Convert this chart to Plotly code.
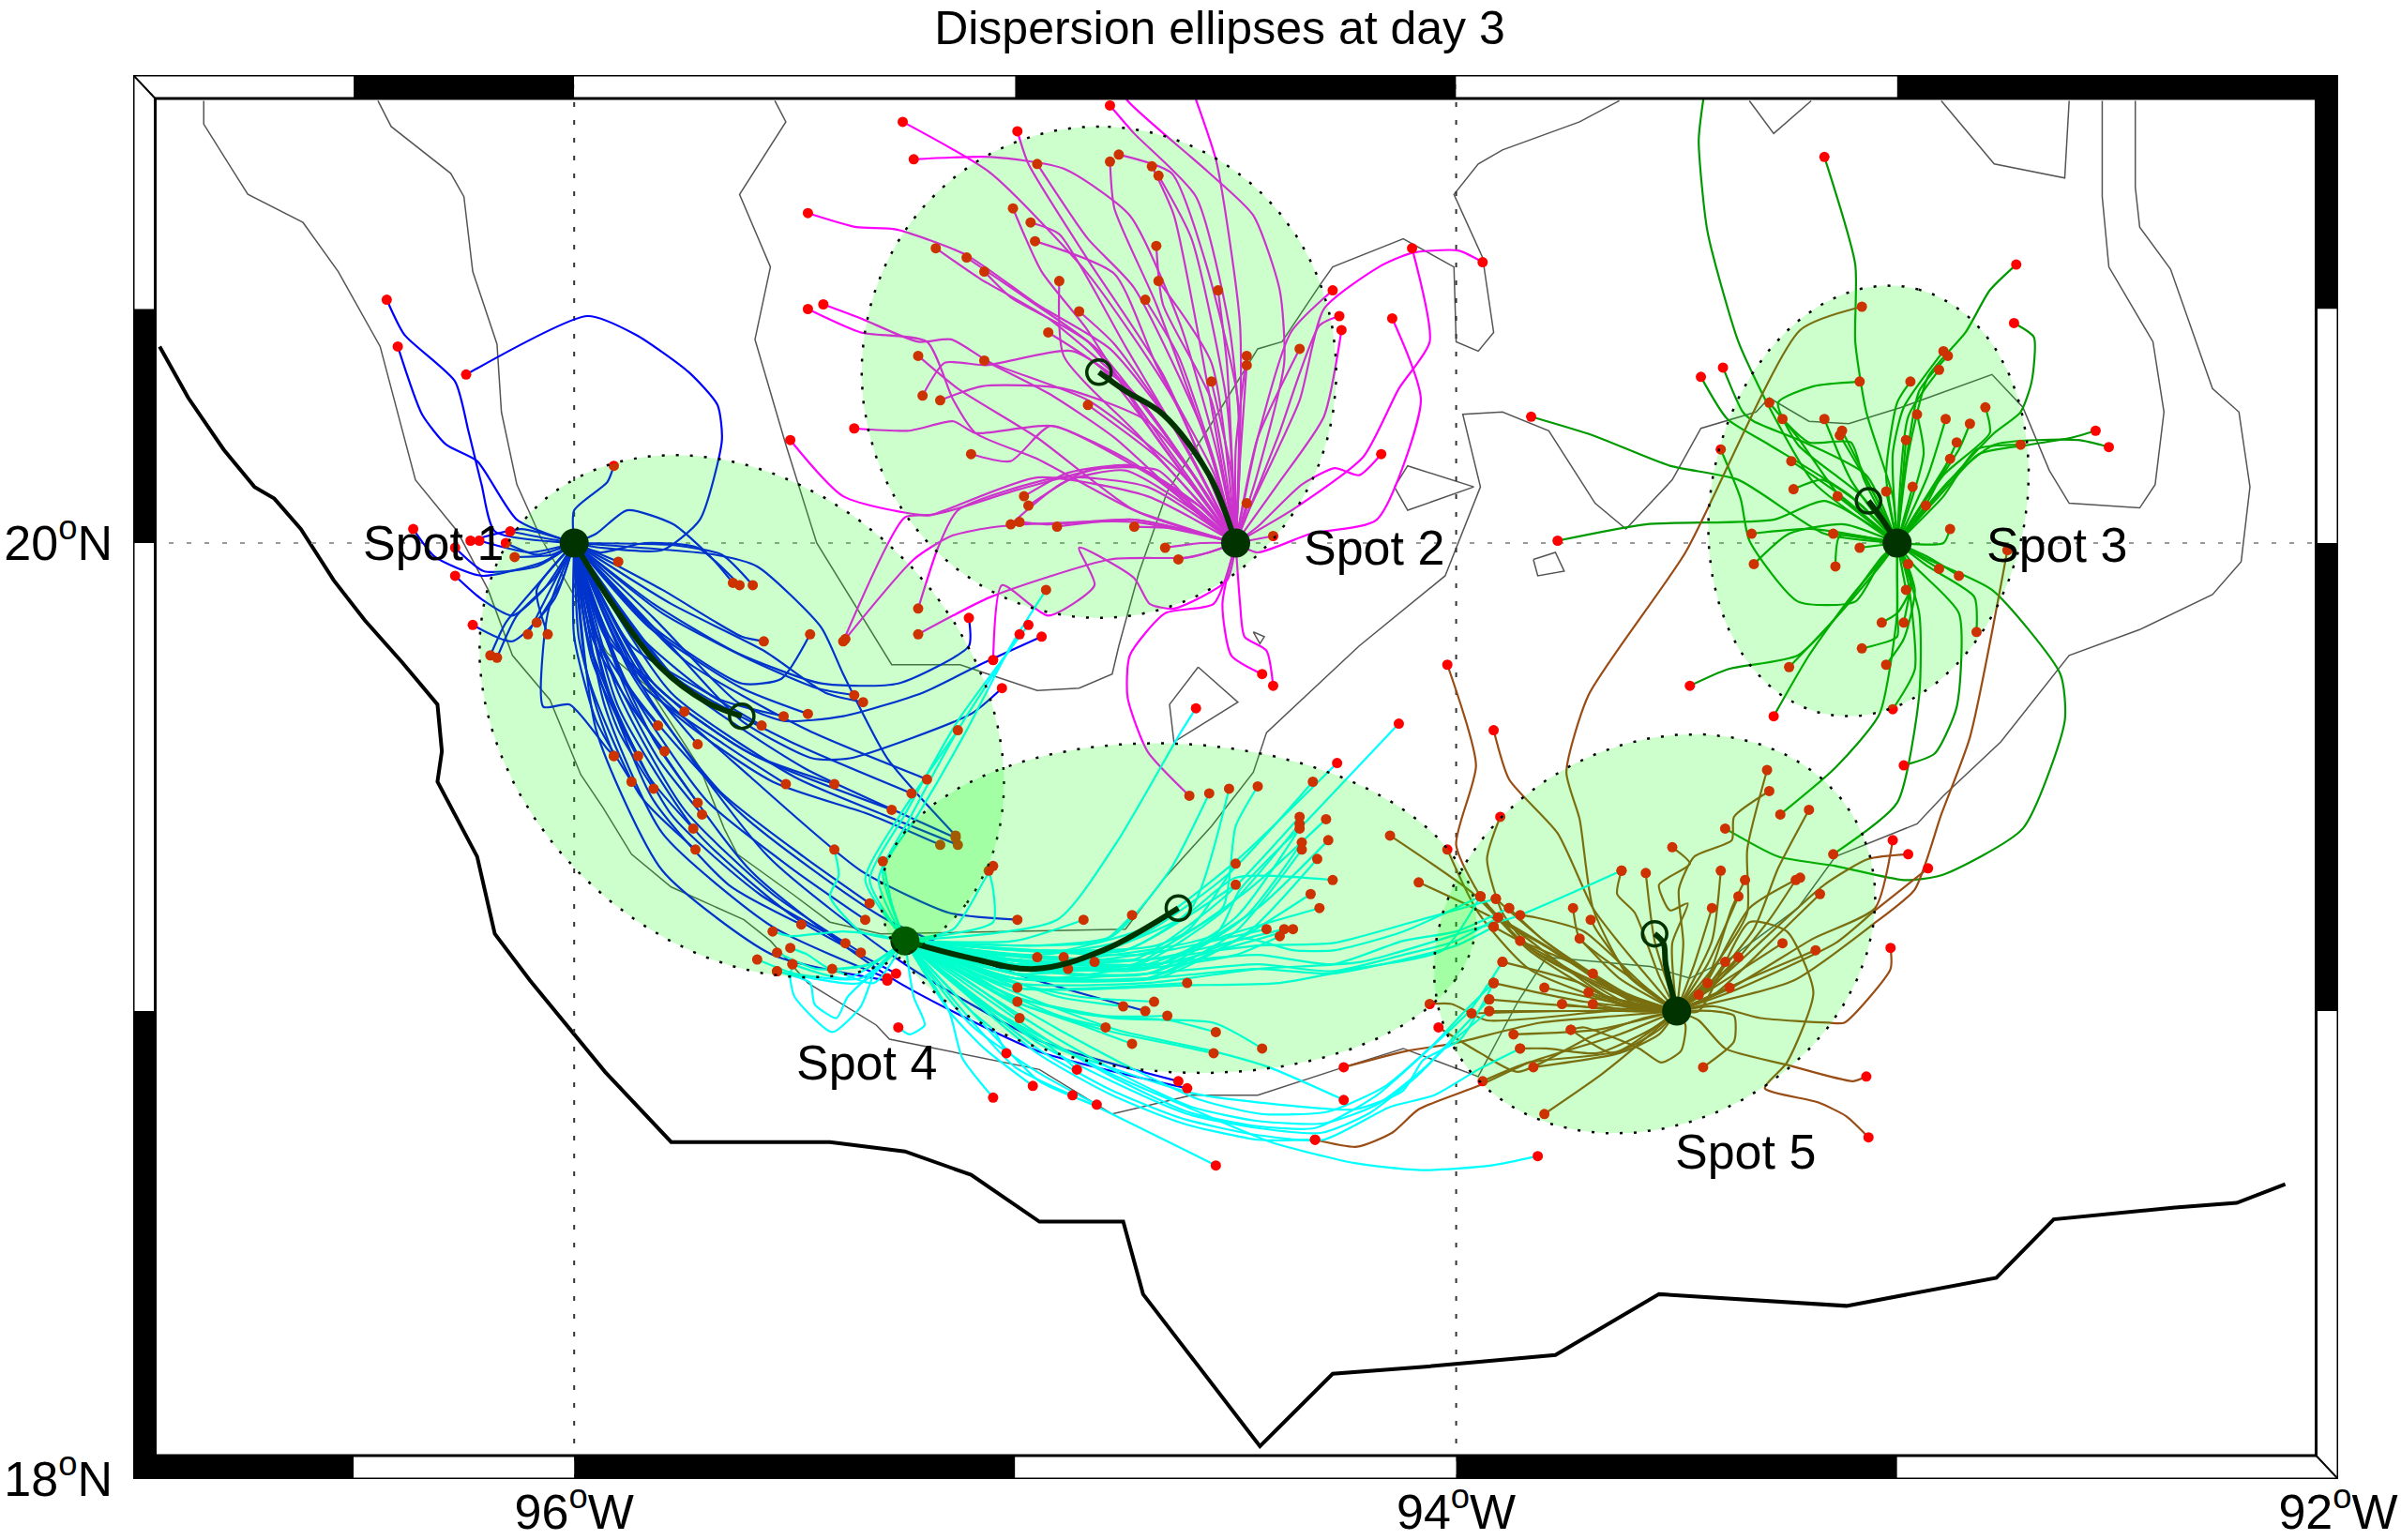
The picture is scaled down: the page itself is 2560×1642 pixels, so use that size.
import numpy as np
import plotly.graph_objects as go

# release spots and mean track ends (lon, lat)
spot_names = ['Spot 1', 'Spot 2', 'Spot 3', 'Spot 4', 'Spot 5']
spot_lon = [-96.0, -94.5, -93.0, -95.25, -93.5]
spot_lat = [20.0, 20.0, 20.0, 19.15, 19.0]
mean_end_lon = [-95.62, -94.81, -93.065, -94.63, -93.55]
mean_end_lat = [19.63, 20.365, 20.09, 19.22, 19.165]
label_lon = [-96.32, -94.187, -92.639, -95.337, -93.344]
label_lat = [20.0, 19.99, 19.995, 18.89, 18.70]

# dispersion ellipses: semi axes in degrees and tilt
ell_a = [0.648, 0.525, 0.466, 0.676, 0.517]
ell_b = [0.495, 0.538, 0.356, 0.351, 0.406]
ell_tilt = [-38, 90, 76, -3, 24]

mean_mid_1 = [(-95.91, 19.865), (-95.805, 19.735), (-95.70, 19.66)]
mean_mid_2 = [(-94.56, 20.145), (-94.665, 20.275), (-94.75, 20.325)]
mean_mid_3 = [(-93.03, 20.045)]
mean_mid_4 = [(-95.11, 19.115), (-94.955, 19.09), (-94.80, 19.13)]
mean_mid_5 = [(-93.525, 19.10), (-93.53, 19.145)]

coast = [(-96.94, 20.42), (-96.875, 20.31), (-96.795, 20.20), (-96.725, 20.12), (-96.68, 20.095), (-96.62, 20.03),
         (-96.545, 19.92), (-96.475, 19.835), (-96.39, 19.745), (-96.31, 19.655), (-96.30, 19.555), (-96.31, 19.49),
         (-96.22, 19.33), (-96.18, 19.165), (-96.10, 19.065), (-95.93, 18.87), (-95.78, 18.72), (-95.42, 18.72),
         (-95.25, 18.70), (-95.10, 18.65), (-94.945, 18.55), (-94.755, 18.55), (-94.71, 18.395), (-94.445, 18.07),
         (-94.28, 18.225), (-94.07, 18.24), (-93.775, 18.265), (-93.54, 18.395), (-93.115, 18.37), (-92.775, 18.43),
         (-92.645, 18.555), (-92.37, 18.58), (-92.23, 18.59), (-92.12, 18.63)]

contour_1 = [(-96.84, 20.945), (-96.84, 20.895), (-96.74, 20.745), (-96.615, 20.685), (-96.535, 20.58), (-96.44, 20.42),
             (-96.36, 20.135), (-96.265, 20.025), (-96.195, 19.90), (-96.14, 19.76), (-96.055, 19.665), (-95.985, 19.505),
             (-95.935, 19.435), (-95.87, 19.335), (-95.78, 19.265), (-95.615, 19.195), (-95.555, 19.15), (-95.47, 19.06),
             (-95.315, 18.97), (-95.285, 18.94), (-94.945, 18.875), (-94.78, 18.78), (-94.60, 18.82), (-94.45, 18.82),
             (-94.255, 18.88), (-94.12, 18.92), (-93.95, 18.86), (-93.86, 19.02), (-93.795, 19.115), (-93.56, 19.095),
             (-93.47, 19.07), (-93.375, 19.115), (-93.225, 19.22), (-93.14, 19.33), (-92.955, 19.40), (-92.895, 19.46),
             (-92.765, 19.575), (-92.61, 19.76), (-92.45, 19.815), (-92.285, 19.89), (-92.22, 19.96), (-92.20, 20.12),
             (-92.225, 20.28), (-92.285, 20.33), (-92.38, 20.585), (-92.45, 20.675), (-92.46, 20.76), (-92.46, 20.945)]
contour_2 = [(-96.445, 20.945), (-96.415, 20.89), (-96.28, 20.79), (-96.25, 20.74), (-96.23, 20.58), (-96.175, 20.425),
             (-96.165, 20.28), (-96.13, 20.125), (-96.075, 20.01), (-95.925, 19.765), (-95.835, 19.695), (-95.715, 19.52),
             (-95.66, 19.39), (-95.63, 19.335), (-95.505, 19.25), (-95.42, 19.19), (-95.305, 19.165), (-94.75, 19.175),
             (-94.665, 19.28), (-94.555, 19.395), (-94.46, 19.51), (-94.43, 19.595), (-94.22, 19.78), (-94.025, 19.93),
             (-93.945, 20.12), (-93.985, 20.275), (-93.895, 20.28), (-93.79, 20.24), (-93.685, 20.085), (-93.615, 20.03),
             (-93.51, 20.135), (-93.445, 20.245), (-93.32, 20.28), (-93.29, 20.31), (-93.20, 20.26), (-93.11, 20.255),
             (-92.99, 20.29), (-92.785, 20.36), (-92.715, 20.29), (-92.655, 20.155), (-92.61, 20.085), (-92.45, 20.075),
             (-92.415, 20.125), (-92.395, 20.28), (-92.42, 20.43), (-92.52, 20.59), (-92.535, 20.74), (-92.535, 20.945)]
contour_3 = [(-95.545, 20.945), (-95.52, 20.90), (-95.625, 20.745), (-95.555, 20.59), (-95.59, 20.435), (-95.52, 20.21),
             (-95.45, 20.0), (-95.28, 19.74), (-95.125, 19.74), (-94.95, 19.685), (-94.855, 19.69), (-94.78, 19.72),
             (-94.765, 19.78), (-94.72, 19.935), (-94.655, 20.11), (-94.565, 20.24), (-94.45, 20.415), (-94.395, 20.43),
             (-94.31, 20.55), (-94.28, 20.59), (-94.12, 20.65), (-94.005, 20.59), (-94.0, 20.43), (-93.95, 20.41),
             (-93.915, 20.45), (-93.94, 20.61), (-94.005, 20.745), (-93.95, 20.81), (-93.895, 20.84), (-93.72, 20.90),
             (-93.63, 20.945)]
contour_4 = [(-94.14, 20.12), (-94.11, 20.165), (-93.96, 20.12), (-94.11, 20.07), (-94.14, 20.12)]
contour_5 = [(-94.585, 19.735), (-94.495, 19.66), (-94.64, 19.575), (-94.65, 19.655), (-94.585, 19.735)]
contour_6 = [(-93.825, 19.965), (-93.775, 19.98), (-93.755, 19.94), (-93.815, 19.93), (-93.825, 19.965)]
contour_7 = [(-94.46, 19.81), (-94.435, 19.80), (-94.445, 19.785), (-94.46, 19.81)]
contour_8 = [(-93.335, 20.945), (-93.28, 20.875), (-93.195, 20.945)]
contour_9 = [(-92.90, 20.945), (-92.78, 20.81), (-92.62, 20.78), (-92.61, 20.945)]

# every track is written from its day 3 position back towards the release spot
tracks_1 = [
    [(-96.425, 20.52), (-96.385, 20.445), (-96.27, 20.345), (-96.24, 20.24), (-96.21, 20.125), (-96.18, 20.025)],
    [(-96.40, 20.42), (-96.345, 20.275), (-96.29, 20.21), (-96.22, 20.175), (-96.13, 20.05)],
    [(-96.245, 20.36), (-95.97, 20.485), (-95.86, 20.445), (-95.74, 20.365), (-95.675, 20.295), (-95.665, 20.22), (-95.715, 20.05), (-95.80, 19.985), (-95.94, 19.99)],
    [(-95.91, 20.165), (-95.925, 20.13), (-96.0, 20.07)],
    [(-95.64, 19.915), (-95.685, 19.965), (-95.775, 20.04), (-95.88, 20.07), (-95.95, 20.02)],
    [(-95.625, 19.91), (-95.72, 19.99), (-95.84, 20.0), (-95.94, 19.98)],
    [(-95.595, 19.91), (-95.665, 19.975), (-95.77, 19.995)],
    [(-96.365, 20.03), (-96.315, 19.97), (-96.21, 19.93), (-96.07, 19.96)],
    [(-96.235, 20.005), (-96.12, 20.03)],
    [(-96.215, 20.005), (-96.10, 19.98)],
    [(-96.145, 20.025), (-96.065, 20.01)],
    [(-96.155, 20.0), (-96.085, 19.975)],
    [(-96.27, 19.99), (-96.205, 19.94), (-96.085, 19.95)],
    [(-96.135, 19.97), (-96.05, 19.975)],
    [(-96.27, 19.93), (-96.21, 19.88), (-96.14, 19.845), (-96.07, 19.90)],
    [(-96.23, 19.825), (-96.14, 19.79), (-96.045, 19.88)],
    [(-96.19, 19.76), (-96.155, 19.83), (-96.075, 19.92)],
    [(-96.175, 19.755), (-96.13, 19.845), (-96.045, 19.925)],
    [(-96.105, 19.805), (-96.065, 19.88)],
    [(-96.085, 19.83), (-96.03, 19.915)],
    [(-96.06, 19.805), (-96.085, 19.90)],
    [(-95.28, 19.43), (-95.60, 19.55), (-95.82, 19.70)],
    [(-95.235, 19.465), (-95.52, 19.58), (-95.78, 19.72)],
    [(-95.20, 19.495), (-95.47, 19.60), (-95.75, 19.75)],
    [(-95.135, 19.37), (-95.30, 19.44), (-95.48, 19.52), (-95.76, 19.70)],
    [(-95.13, 19.355), (-95.30, 19.42), (-95.50, 19.50), (-95.78, 19.68)],
    [(-95.17, 19.355), (-95.33, 19.42), (-95.55, 19.49), (-95.80, 19.66)],
    [(-95.41, 19.485), (-95.60, 19.55), (-95.82, 19.70)],
    [(-95.52, 19.485), (-95.66, 19.57), (-95.85, 19.70)],
    [(-95.485, 19.185), (-95.65, 19.27), (-95.82, 19.45), (-95.93, 19.70)],
    [(-95.385, 19.145), (-95.58, 19.25), (-95.78, 19.42), (-95.92, 19.68)],
    [(-95.35, 19.125), (-95.55, 19.25), (-95.75, 19.43), (-95.90, 19.68)],
    [(-95.34, 19.195), (-95.50, 19.30), (-95.70, 19.45), (-95.88, 19.70)],
    [(-95.33, 19.23), (-95.48, 19.33), (-95.67, 19.47), (-95.87, 19.72)],
    [(-94.995, 19.195), (-95.15, 19.21), (-95.35, 19.30), (-95.60, 19.50), (-95.85, 19.72)],
    [(-94.705, 19.0), (-95.0, 19.08), (-95.30, 19.20), (-95.62, 19.42), (-95.88, 19.70)],
    [(-94.63, 18.85), (-94.94, 18.935), (-95.25, 19.10), (-95.56, 19.33), (-95.84, 19.685)],
    [(-94.61, 18.835), (-94.95, 18.915), (-95.28, 19.07), (-95.60, 19.30), (-95.87, 19.66)],
    [(-95.29, 19.07), (-95.55, 19.18), (-95.80, 19.38), (-95.93, 19.65)],
    [(-95.27, 19.08), (-95.50, 19.20), (-95.72, 19.38), (-95.90, 19.65)],
    [(-95.29, 19.065), (-95.55, 19.12), (-95.80, 19.30), (-95.95, 19.60)],
    [(-95.91, 19.545), (-95.925, 19.56), (-96.01, 19.655), (-96.07, 19.65), (-96.06, 19.85)],
    [(-95.105, 19.84), (-95.105, 19.78), (-95.265, 19.70), (-95.44, 19.70), (-95.63, 19.765), (-95.82, 19.87)],
    [(-94.94, 19.80), (-95.08, 19.74), (-95.21, 19.68), (-95.39, 19.63), (-95.525, 19.62), (-95.63, 19.66), (-95.82, 19.84)],
    [(-95.03, 19.69), (-95.10, 19.635), (-95.375, 19.54), (-95.46, 19.54), (-95.62, 19.62), (-95.80, 19.80)],
    [(-95.135, 19.375), (-95.29, 19.54), (-95.39, 19.72), (-95.44, 19.82), (-95.585, 19.95), (-95.68, 19.975)],
    [(-95.465, 19.805), (-95.53, 19.71), (-95.62, 19.70), (-95.82, 19.82)],
    [(-95.57, 19.79), (-95.62, 19.80), (-95.80, 19.90)],
    [(-95.90, 19.96)],
    [(-95.75, 19.64), (-95.82, 19.70), (-95.93, 19.80)],
    [(-95.575, 19.61), (-95.70, 19.68), (-95.87, 19.78)],
    [(-95.81, 19.61), (-95.87, 19.68), (-95.95, 19.80)],
    [(-95.72, 19.57), (-95.81, 19.67), (-95.92, 19.80)],
    [(-95.795, 19.555), (-95.87, 19.65), (-95.96, 19.80)],
    [(-95.91, 19.545), (-95.95, 19.65), (-95.99, 19.80)],
    [(-95.855, 19.545), (-95.91, 19.65), (-95.97, 19.80)],
    [(-95.87, 19.49), (-95.95, 19.62), (-96.0, 19.80)],
    [(-95.82, 19.475), (-95.90, 19.60), (-95.97, 19.80)],
    [(-95.72, 19.445), (-95.82, 19.58), (-95.93, 19.80)],
    [(-95.71, 19.42), (-95.81, 19.54), (-95.94, 19.78)],
    [(-95.73, 19.39), (-95.83, 19.50), (-95.96, 19.75)],
    [(-95.725, 19.345), (-95.85, 19.46), (-95.97, 19.72)],
    [(-95.525, 19.63), (-95.68, 19.67), (-95.85, 19.80)],
    [(-95.47, 19.635), (-95.62, 19.69), (-95.83, 19.82)],
    [(-95.365, 19.675), (-95.45, 19.69), (-95.60, 19.75), (-95.80, 19.85)],
    [(-95.345, 19.66), (-95.43, 19.68), (-95.57, 19.77), (-95.78, 19.87)],
]

tracks_2 = [
    [(-95.255, 20.90), (-95.055, 20.79), (-94.835, 20.575), (-94.64, 20.305)],
    [(-94.995, 20.88), (-94.97, 20.81), (-94.835, 20.605), (-94.665, 20.36)],
    [(-95.23, 20.82), (-95.055, 20.825), (-94.89, 20.80), (-94.74, 20.70), (-94.625, 20.465), (-94.54, 20.185)],
    [(-94.785, 20.935), (-94.73, 20.875), (-94.59, 20.74), (-94.515, 20.465), (-94.49, 20.225)],
    [(-94.765, 20.83), (-94.645, 20.79), (-94.57, 20.605), (-94.495, 20.305)],
    [(-94.785, 20.815), (-94.775, 20.715), (-94.68, 20.51), (-94.555, 20.185)],
    [(-94.69, 20.805), (-94.64, 20.70), (-94.565, 20.345)],
    [(-94.675, 20.785), (-94.60, 20.65), (-94.52, 20.30)],
    [(-94.95, 20.81), (-94.835, 20.65), (-94.73, 20.545), (-94.57, 20.23)],
    [(-95.47, 20.705), (-95.36, 20.675), (-95.27, 20.67), (-95.11, 20.615), (-94.95, 20.51), (-94.785, 20.415), (-94.625, 20.225)],
    [(-95.005, 20.715), (-94.94, 20.58), (-94.84, 20.46), (-94.68, 20.225)],
    [(-94.965, 20.685), (-94.90, 20.66), (-94.75, 20.42), (-94.6, 20.18)],
    [(-94.955, 20.645), (-94.775, 20.575), (-94.68, 20.38), (-94.55, 20.15)],
    [(-94.68, 20.635), (-94.665, 20.51), (-94.555, 20.305)],
    [(-95.18, 20.63), (-95.08, 20.565), (-94.925, 20.48), (-94.73, 20.32), (-94.57, 20.11)],
    [(-95.11, 20.61), (-94.97, 20.52), (-94.815, 20.415), (-94.625, 20.185)],
    [(-95.07, 20.58), (-95.01, 20.525), (-94.835, 20.43), (-94.645, 20.19)],
    [(-94.90, 20.56), (-94.89, 20.40), (-94.72, 20.23)],
    [(-94.675, 20.56), (-94.555, 20.385)],
    [(-94.54, 20.54), (-94.52, 20.385)],
    [(-94.705, 20.52), (-94.63, 20.40), (-94.55, 20.18)],
    [(-95.435, 20.51), (-95.35, 20.48), (-95.22, 20.43), (-95.145, 20.435), (-95.055, 20.385), (-94.835, 20.305), (-94.625, 20.15)],
    [(-95.47, 20.50), (-95.35, 20.45), (-95.20, 20.43), (-95.14, 20.305), (-95.09, 20.235), (-94.95, 20.18), (-94.73, 20.07)],
    [(-94.855, 20.495), (-94.775, 20.425), (-94.625, 20.225)],
    [(-94.925, 20.45), (-94.80, 20.37), (-94.62, 20.15)],
    [(-95.22, 20.40), (-95.13, 20.33), (-94.95, 20.225), (-94.73, 20.07)],
    [(-95.07, 20.39), (-94.925, 20.32), (-94.775, 20.225), (-94.595, 20.07)],
    [(-95.21, 20.315), (-95.16, 20.385), (-95.065, 20.38), (-94.87, 20.41), (-94.73, 20.32), (-94.57, 20.11)],
    [(-95.17, 20.305), (-95.075, 20.335), (-94.89, 20.33), (-94.70, 20.26), (-94.57, 20.11)],
    [(-94.835, 20.295), (-94.68, 20.185)],
    [(-95.365, 20.245), (-95.24, 20.24), (-95.14, 20.26), (-95.09, 20.235), (-94.915, 20.25), (-94.73, 20.17)],
    [(-95.51, 20.22), (-95.39, 20.10), (-95.195, 20.06), (-94.99, 20.115), (-94.73, 20.165)],
    [(-95.10, 20.19), (-95.01, 20.175), (-94.92, 20.25), (-94.73, 20.165), (-94.57, 20.07)],
    [(-94.98, 20.10), (-94.88, 20.15), (-94.73, 20.165), (-94.59, 20.085)],
    [(-94.97, 20.08), (-94.835, 20.155), (-94.675, 20.155), (-94.57, 20.05)],
    [(-95.01, 20.04), (-94.89, 20.13), (-94.75, 20.155), (-94.58, 20.06)],
    [(-94.99, 20.045), (-94.925, 20.04), (-94.73, 20.05)],
    [(-94.905, 20.035), (-94.73, 20.05)],
    [(-94.73, 20.035), (-94.62, 20.03)],
    [(-94.66, 19.99), (-94.58, 20.0)],
    [(-94.63, 19.965), (-94.56, 19.98)],
    [(-94.475, 20.085)],
    [(-94.415, 20.015)],
    [(-94.555, 20.345), (-94.51, 20.15)],
    [(-94.475, 20.40), (-94.50, 20.2)],
    [(-94.475, 20.38), (-94.49, 20.18)],
    [(-94.355, 20.415), (-94.45, 20.225)],
    [(-94.28, 20.54), (-94.375, 20.45), (-94.45, 20.225)],
    [(-94.265, 20.485), (-94.31, 20.465), (-94.405, 20.225)],
    [(-94.26, 20.455), (-94.30, 20.27), (-94.405, 20.125)],
    [(-94.10, 20.63), (-94.06, 20.43), (-94.13, 20.33), (-94.21, 20.185), (-94.365, 20.075)],
    [(-94.145, 20.48), (-94.08, 20.305), (-94.18, 20.05), (-94.33, 20.02), (-94.45, 19.98)],
    [(-93.94, 20.60), (-93.995, 20.625), (-94.10, 20.62), (-94.175, 20.59), (-94.30, 20.50), (-94.355, 20.305), (-94.47, 20.07)],
    [(-94.17, 20.19), (-94.22, 20.145), (-94.275, 20.16), (-94.35, 20.125), (-94.45, 20.035)],
    [(-95.22, 19.86), (-95.175, 19.99), (-95.13, 20.07), (-94.9, 20.14), (-94.7, 20.12)],
    [(-95.22, 19.805), (-95.055, 19.885), (-94.785, 19.965), (-94.6, 19.97)],
    [(-95.39, 19.79), (-95.25, 20.055), (-95.19, 20.06), (-94.95, 20.14), (-94.7, 20.1)],
    [(-95.385, 19.795), (-95.23, 19.965), (-95.145, 20.015), (-95.04, 20.035), (-94.73, 20.045)],
    [(-95.05, 19.75), (-95.03, 19.91), (-94.925, 19.845), (-94.82, 19.91), (-94.855, 19.99), (-94.73, 19.925), (-94.695, 19.87), (-94.64, 19.86), (-94.52, 19.92)],
    [(-94.605, 19.46), (-94.70, 19.555), (-94.745, 19.67), (-94.74, 19.76), (-94.66, 19.85), (-94.55, 19.87)],
    [(-94.415, 19.695), (-94.43, 19.77), (-94.48, 19.8), (-94.49, 19.87)],
    [(-94.44, 19.72), (-94.51, 19.76), (-94.53, 19.87)],
    [(-94.78, 21.0), (-94.745, 20.945), (-94.565, 20.795), (-94.46, 20.70), (-94.40, 20.54), (-94.39, 20.385), (-94.45, 20.15)],
    [(-94.61, 21.0), (-94.545, 20.82), (-94.515, 20.655), (-94.49, 20.465), (-94.49, 20.225)],
]
# the last two of tracks_2 leave the frame, they carry no end dot
tracks_2_open = 2

tracks_3 = [
    [(-93.165, 20.825), (-93.095, 20.595), (-93.095, 20.43), (-93.07, 20.28), (-93.01, 20.10)],
    [(-92.73, 20.595), (-92.79, 20.54), (-92.845, 20.45), (-92.93, 20.355), (-92.975, 20.19)],
    [(-92.735, 20.47), (-92.69, 20.44), (-92.695, 20.345), (-92.72, 20.28), (-92.78, 20.235), (-92.87, 20.145)],
    [(-93.445, 20.355), (-93.385, 20.265), (-93.29, 20.21), (-93.105, 20.10)],
    [(-93.395, 20.375), (-93.35, 20.28), (-93.325, 20.26), (-93.21, 20.215), (-93.07, 20.145)],
    [(-92.895, 20.41), (-92.985, 20.29), (-93.01, 20.19)],
    [(-92.885, 20.40), (-92.95, 20.325), (-92.985, 20.135)],
    [(-92.905, 20.37), (-92.975, 20.27)],
    [(-93.085, 20.345), (-93.19, 20.335), (-93.27, 20.30), (-93.225, 20.21), (-93.08, 20.10)],
    [(-92.97, 20.345), (-93.0, 20.30), (-93.025, 20.145)],
    [(-93.29, 20.30), (-93.225, 20.225), (-93.13, 20.10)],
    [(-93.26, 20.265), (-93.20, 20.215), (-93.105, 20.215), (-93.075, 20.135)],
    [(-93.165, 20.265), (-93.105, 20.135)],
    [(-93.125, 20.24), (-93.05, 20.1)],
    [(-93.13, 20.23), (-93.05, 20.1)],
    [(-92.955, 20.275), (-92.94, 20.19)],
    [(-92.89, 20.265), (-92.93, 20.145)],
    [(-92.80, 20.29), (-92.79, 20.235), (-92.895, 20.145)],
    [(-92.835, 20.255), (-92.86, 20.2), (-92.93, 20.1)],
    [(-92.98, 20.22)],
    [(-92.865, 20.215), (-92.93, 20.09)],
    [(-92.72, 20.21), (-92.82, 20.20), (-92.895, 20.10)],
    [(-92.55, 20.24), (-92.605, 20.225), (-92.70, 20.21), (-92.815, 20.19), (-92.905, 20.10)],
    [(-92.52, 20.205), (-92.59, 20.22), (-92.78, 20.21), (-92.88, 20.135)],
    [(-93.40, 20.20), (-93.355, 20.095), (-93.335, 20.005), (-93.225, 19.875), (-93.095, 19.875), (-93.035, 19.965)],
    [(-93.24, 20.175), (-93.14, 20.11)],
    [(-92.88, 20.18), (-92.94, 20.09)],
    [(-93.235, 20.115), (-93.17, 20.135), (-93.08, 20.08)],
    [(-93.135, 20.10)],
    [(-93.025, 20.11)],
    [(-92.965, 20.12)],
    [(-92.935, 20.08)],
    [(-93.33, 20.02), (-93.19, 20.03)],
    [(-93.145, 20.02)],
    [(-92.88, 20.03), (-92.895, 20.0)],
    [(-93.085, 19.99)],
    [(-93.325, 19.955), (-93.245, 20.02), (-93.12, 20.04)],
    [(-93.14, 19.95), (-93.13, 20.015)],
    [(-92.975, 19.955)],
    [(-92.905, 19.945)],
    [(-92.86, 19.93), (-92.93, 19.97)],
    [(-92.98, 19.90)],
    [(-93.035, 19.83), (-93.0, 19.85), (-92.965, 19.915)],
    [(-92.985, 19.83), (-92.97, 19.92)],
    [(-92.82, 19.81), (-92.825, 19.885), (-92.93, 19.95)],
    [(-93.08, 19.775), (-93.0, 19.80), (-93.0, 19.85)],
    [(-93.025, 19.74), (-92.985, 19.795), (-92.96, 19.9)],
    [(-93.245, 19.735), (-93.13, 19.85), (-93.035, 19.97)],
    [(-93.47, 19.695), (-93.385, 19.73), (-93.225, 19.76), (-93.13, 19.85), (-93.04, 19.95)],
    [(-93.28, 19.63), (-93.20, 19.76), (-93.105, 19.885)],
    [(-93.01, 19.645), (-92.96, 19.73), (-92.975, 19.915)],
    [(-92.985, 19.525), (-92.915, 19.55), (-92.865, 19.65), (-92.86, 19.85), (-92.96, 19.95)],
    [(-93.265, 19.42), (-93.14, 19.52), (-93.04, 19.635), (-93.0, 19.85), (-93.0, 19.93)],
    [(-93.145, 19.335), (-93.0, 19.445), (-92.95, 19.675), (-92.95, 19.85)],
    [(-93.39, 19.39), (-93.27, 19.33), (-93.14, 19.31), (-92.985, 19.28), (-92.90, 19.29), (-92.715, 19.39), (-92.62, 19.62), (-92.63, 19.72), (-92.785, 19.90), (-92.93, 19.965)],
    [(-93.77, 20.005), (-93.57, 20.04), (-93.28, 20.05), (-93.165, 20.09)],
    [(-93.83, 20.27), (-93.69, 20.23), (-93.515, 20.165), (-93.36, 20.135), (-93.165, 20.02)],
    [(-93.43, 21.0), (-93.44, 20.945), (-93.45, 20.86), (-93.43, 20.665), (-93.36, 20.43), (-93.29, 20.29), (-93.19, 20.13), (-93.035, 20.02)],
]
tracks_3_open = 1

tracks_4 = [
    [(-94.27, 19.53), (-94.50, 19.32), (-94.70, 19.18), (-94.95, 19.12)],
    [(-94.325, 19.49), (-94.52, 19.29), (-94.72, 19.16), (-94.95, 19.12)],
    [(-94.45, 19.48), (-94.50, 19.395), (-94.53, 19.22), (-94.68, 19.14), (-94.95, 19.13)],
    [(-94.515, 19.475), (-94.60, 19.22), (-94.75, 19.13), (-94.95, 19.13)],
    [(-94.56, 19.465), (-94.65, 19.30), (-94.78, 19.16), (-94.95, 19.14)],
    [(-94.355, 19.415), (-94.53, 19.24), (-94.73, 19.11), (-95.0, 19.12)],
    [(-94.355, 19.40), (-94.52, 19.22), (-94.72, 19.10), (-95.0, 19.11)],
    [(-94.355, 19.39), (-94.50, 19.20), (-94.70, 19.09), (-95.0, 19.10)],
    [(-94.295, 19.41), (-94.47, 19.26), (-94.68, 19.13), (-95.0, 19.10)],
    [(-94.29, 19.365), (-94.45, 19.22), (-94.67, 19.10), (-95.0, 19.09)],
    [(-94.35, 19.36), (-94.48, 19.20), (-94.70, 19.08), (-95.0, 19.09)],
    [(-94.35, 19.345), (-94.50, 19.17), (-94.70, 19.07), (-95.0, 19.08)],
    [(-94.315, 19.325), (-94.47, 19.17), (-94.68, 19.07), (-95.0, 19.08)],
    [(-94.50, 19.315), (-94.60, 19.18), (-94.73, 19.10), (-95.0, 19.10)],
    [(-94.28, 19.28), (-94.50, 19.285), (-94.62, 19.20), (-94.90, 19.10)],
    [(-94.50, 19.27), (-94.75, 19.13), (-95.0, 19.13)],
    [(-94.33, 19.25), (-94.50, 19.15), (-94.70, 19.07), (-95.0, 19.07)],
    [(-94.31, 19.22), (-94.51, 19.165), (-94.7, 19.10), (-94.95, 19.07)],
    [(-94.735, 19.205), (-94.8, 19.15), (-95.0, 19.14)],
    [(-94.845, 19.195), (-95.0, 19.15)],
    [(-94.43, 19.175), (-94.55, 19.15), (-94.72, 19.12), (-95.0, 19.13)],
    [(-94.39, 19.175), (-94.50, 19.15), (-94.70, 19.11), (-95.0, 19.12)],
    [(-94.37, 19.175), (-94.50, 19.14), (-94.68, 19.10), (-95.0, 19.11)],
    [(-94.40, 19.16), (-94.50, 19.12), (-94.72, 19.09), (-95.0, 19.10)],
    [(-93.945, 19.245), (-94.12, 19.17), (-94.275, 19.13), (-94.37, 19.13), (-94.48, 19.155), (-94.70, 19.08), (-95.0, 19.09)],
    [(-93.91, 19.24), (-94.10, 19.19), (-94.28, 19.145), (-94.45, 19.14), (-94.70, 19.11), (-95.0, 19.10)],
    [(-93.88, 19.22), (-94.0, 19.17), (-94.12, 19.15), (-94.28, 19.10), (-94.45, 19.12), (-94.70, 19.10), (-95.0, 19.08)],
    [(-93.905, 19.20), (-94.0, 19.15), (-94.12, 19.12), (-94.28, 19.085), (-94.45, 19.10), (-94.70, 19.08), (-95.0, 19.07)],
    [(-93.915, 19.18), (-94.0, 19.14), (-94.12, 19.11), (-94.28, 19.08), (-94.45, 19.09), (-94.70, 19.07), (-95.0, 19.07)],
    [(-93.625, 19.30), (-93.855, 19.205), (-93.96, 19.175), (-94.215, 19.105), (-94.45, 19.09), (-94.7, 19.06), (-95.0, 19.06)],
    [(-94.61, 19.06), (-94.8, 19.05), (-95.0, 19.05)],
    [(-93.945, 19.245), (-94.03, 19.13), (-94.23, 19.09), (-94.40, 19.06), (-94.615, 19.055), (-95.0, 19.05)],
    [(-94.95, 19.115), (-95.1, 19.13)],
    [(-94.89, 19.115), (-95.05, 19.12)],
    [(-94.82, 19.105), (-95.05, 19.11)],
    [(-94.88, 19.09), (-95.05, 19.09)],
    [(-94.685, 19.02), (-94.85, 19.03), (-95.0, 19.06)],
    [(-94.755, 19.01), (-94.9, 19.03), (-95.05, 19.08)],
    [(-94.995, 19.05), (-95.1, 19.09)],
    [(-94.995, 19.02), (-95.1, 19.08)],
    [(-94.99, 18.985), (-95.1, 19.06)],
    [(-94.655, 18.99), (-94.82, 18.99), (-95.0, 19.03)],
    [(-94.795, 18.965), (-94.9, 18.99), (-95.05, 19.05)],
    [(-94.545, 18.955), (-94.65, 18.98), (-94.8, 18.99), (-95.0, 19.03)],
    [(-94.735, 18.93), (-94.85, 18.97), (-95.0, 19.02)],
    [(-94.55, 18.91), (-94.65, 18.93), (-94.80, 18.96), (-95.0, 19.02)],
    [(-94.44, 18.92), (-94.55, 18.975), (-94.78, 18.985), (-95.0, 19.03)],
    [(-95.02, 18.91), (-95.05, 18.96), (-95.1, 19.0)],
    [(-94.86, 18.875), (-94.93, 18.93), (-95.05, 19.0)],
    [(-94.96, 18.84), (-95.07, 18.92), (-95.15, 19.0)],
    [(-94.87, 18.82), (-95.0, 18.88), (-95.1, 18.98)],
    [(-94.815, 18.80), (-94.95, 18.87), (-95.1, 18.97)],
    [(-95.05, 18.815), (-95.12, 18.9), (-95.15, 19.0)],
    [(-94.255, 18.81), (-94.425, 18.88), (-94.555, 18.915), (-94.77, 18.96), (-95.0, 19.04)],
    [(-94.545, 18.67), (-94.825, 18.80), (-94.945, 18.85), (-95.1, 19.0)],
    [(-93.815, 18.69), (-93.92, 18.67), (-94.075, 18.66), (-94.23, 18.675), (-94.42, 18.72), (-94.61, 18.795), (-94.77, 18.86), (-95.10, 19.03)],
    [(-93.925, 19.0), (-94.015, 18.93), (-94.09, 18.86), (-94.20, 18.78), (-94.305, 18.74), (-94.45, 18.75), (-94.61, 18.78), (-94.77, 18.845), (-94.945, 18.93)],
    [(-93.925, 19.025), (-94.0, 18.95), (-94.07, 18.88), (-94.18, 18.80), (-94.30, 18.76), (-94.45, 18.765), (-94.60, 18.795), (-94.75, 18.86), (-94.92, 18.95)],
    [(-93.915, 19.06), (-93.98, 19.0), (-94.05, 18.93), (-94.16, 18.84), (-94.29, 18.785), (-94.44, 18.78), (-94.58, 18.81), (-94.73, 18.875), (-94.90, 18.96)],
    [(-93.895, 19.105), (-93.97, 19.0), (-94.06, 18.92), (-94.18, 18.82), (-94.32, 18.75), (-94.46, 18.755), (-94.61, 18.785), (-94.76, 18.85), (-94.93, 18.94)],
    [(-93.855, 18.92), (-93.95, 18.875), (-94.05, 18.82), (-94.15, 18.795), (-94.30, 18.725), (-94.45, 18.735), (-94.62, 18.77), (-94.78, 18.83), (-94.95, 18.92)],
    [(-94.32, 18.725), (-94.45, 18.725), (-94.62, 18.76), (-94.78, 18.82), (-94.95, 18.91)],
    [(-93.915, 19.06), (-93.99, 18.94), (-94.075, 18.895), (-94.12, 18.83), (-94.23, 18.79), (-94.45, 18.805), (-94.60, 18.825), (-94.95, 18.94)],
    [(-95.55, 19.17), (-95.51, 19.16), (-95.39, 19.17), (-95.30, 19.16)],
    [(-95.51, 19.135), (-95.47, 19.12), (-95.42, 19.09), (-95.33, 19.10)],
    [(-95.54, 19.125), (-95.45, 19.09), (-95.33, 19.1)],
    [(-95.585, 19.11), (-95.5, 19.08), (-95.35, 19.07)],
    [(-95.505, 19.10), (-95.38, 19.07)],
    [(-95.54, 19.085), (-95.46, 19.07), (-95.35, 19.06)],
    [(-95.415, 19.09), (-95.32, 19.06)],
    [(-95.505, 19.10), (-95.51, 19.07), (-95.50, 19.03), (-95.415, 18.955), (-95.35, 19.01), (-95.315, 19.09)],
    [(-95.54, 19.085), (-95.465, 19.06), (-95.455, 19.015), (-95.405, 18.985), (-95.38, 19.03), (-95.32, 19.085)],
    [(-95.265, 18.965), (-95.24, 18.95), (-95.205, 18.97), (-95.23, 19.03)],
    [(-95.41, 19.345), (-95.40, 19.29), (-95.42, 19.245), (-95.35, 19.17)],
    [(-95.30, 19.32), (-95.28, 19.23)],
    [(-94.93, 19.90), (-95.01, 19.78), (-95.11, 19.60), (-95.22, 19.42), (-95.30, 19.30)],
    [(-94.99, 19.805), (-95.13, 19.60), (-95.24, 19.41), (-95.31, 19.28)],
    [(-94.97, 19.825), (-95.13, 19.62), (-95.25, 19.42), (-95.33, 19.28)],
    [(-95.13, 19.60), (-95.26, 19.42), (-95.34, 19.28)],
    [(-95.05, 19.31), (-95.07, 19.28), (-95.14, 19.175)],
    [(-95.06, 19.30), (-95.05, 19.26), (-95.05, 19.19)],
    [(-94.13, 19.614), (-94.335, 19.41), (-94.49, 19.26), (-94.545, 19.165), (-94.9, 19.11)],
    [(-94.59, 19.647), (-94.625, 19.595), (-94.77, 19.36), (-94.905, 19.195)],
]

tracks_5 = [
    [(-94.15, 19.375), (-93.96, 19.25), (-93.835, 19.13), (-93.67, 19.035)],
    [(-94.02, 19.345), (-93.95, 19.21), (-93.835, 19.09), (-93.63, 19.015)],
    [(-94.085, 19.275), (-93.96, 19.22), (-93.81, 19.145), (-93.63, 19.04)],
    [(-93.945, 19.245), (-93.835, 19.135), (-93.63, 19.04)],
    [(-93.91, 19.24), (-93.80, 19.15), (-93.62, 19.04)],
    [(-93.88, 19.22), (-93.80, 19.15), (-93.63, 19.04)],
    [(-93.855, 19.205), (-93.82, 19.2), (-93.71, 19.17), (-93.575, 19.055)],
    [(-93.905, 19.20), (-93.78, 19.13), (-93.62, 19.03)],
    [(-93.915, 19.18), (-93.78, 19.11), (-93.62, 19.02)],
    [(-93.90, 19.415), (-93.93, 19.325), (-93.895, 19.21), (-93.82, 19.125), (-93.63, 19.035)],
    [(-93.625, 19.30), (-93.635, 19.25), (-93.595, 19.21), (-93.54, 19.075)],
    [(-93.57, 19.295), (-93.55, 19.15)],
    [(-93.51, 19.35), (-93.47, 19.315), (-93.54, 19.27), (-93.515, 19.215), (-93.475, 19.23), (-93.51, 19.145)],
    [(-93.295, 19.515), (-93.34, 19.345), (-93.34, 19.21), (-93.415, 19.095)],
    [(-93.29, 19.47), (-93.37, 19.415), (-93.375, 19.365), (-93.46, 19.33), (-93.495, 19.26), (-93.485, 19.145)],
    [(-93.2, 19.43), (-93.27, 19.305), (-93.325, 19.175), (-93.425, 19.06)],
    [(-93.40, 19.30), (-93.42, 19.15)],
    [(-93.345, 19.28), (-93.375, 19.22), (-93.43, 19.07)],
    [(-93.23, 19.28), (-93.29, 19.195), (-93.41, 19.06)],
    [(-93.22, 19.285), (-93.335, 19.22), (-93.44, 19.05)],
    [(-93.36, 19.245), (-93.43, 19.1)],
    [(-93.42, 19.22), (-93.46, 19.1)],
    [(-93.175, 19.25), (-93.29, 19.145), (-93.415, 19.035)],
    [(-93.735, 19.22), (-93.72, 19.155), (-93.61, 19.075)],
    [(-93.695, 19.195), (-93.68, 19.17), (-93.60, 19.07)],
    [(-93.72, 19.155), (-93.63, 19.07)],
    [(-93.855, 19.15), (-93.71, 19.09), (-93.585, 19.01)],
    [(-93.26, 19.145), (-93.375, 19.075)],
    [(-93.185, 19.13), (-93.335, 19.07)],
    [(-93.36, 19.115), (-93.43, 19.05)],
    [(-93.39, 19.105), (-93.44, 19.04)],
    [(-93.895, 19.105), (-93.72, 19.06), (-93.62, 19.01)],
    [(-93.915, 19.06), (-93.71, 19.02)],
    [(-93.925, 19.0), (-93.75, 19.0)],
    [(-93.925, 19.025), (-93.73, 19.01)],
    [(-93.965, 18.995), (-93.75, 19.0)],
    [(-93.80, 19.05), (-93.65, 19.02)],
    [(-93.69, 19.08), (-93.6, 19.03)],
    [(-93.70, 19.04), (-93.6, 19.01)],
    [(-93.69, 19.015), (-93.6, 19.0)],
    [(-93.76, 19.015), (-93.62, 19.0)],
    [(-93.43, 19.06)],
    [(-93.45, 19.035)],
    [(-93.38, 19.05)],
    [(-94.06, 19.015), (-94.01, 19.015), (-93.93, 18.98), (-93.65, 19.0)],
    [(-94.04, 18.965), (-93.945, 18.91), (-93.86, 18.87), (-93.695, 18.945), (-93.575, 18.985)],
    [(-93.87, 18.95), (-93.68, 18.96)],
    [(-93.74, 18.96), (-93.645, 18.91), (-93.54, 18.96)],
    [(-93.74, 18.96), (-93.71, 18.965), (-93.585, 18.92), (-93.535, 18.89), (-93.49, 18.915), (-93.48, 18.97)],
    [(-93.855, 18.92), (-93.795, 18.92), (-93.68, 18.91), (-93.56, 18.96)],
    [(-93.825, 18.88), (-93.63, 18.91), (-93.54, 18.95)],
    [(-93.94, 18.85), (-93.835, 18.89), (-93.63, 18.915)],
    [(-93.80, 18.78), (-93.67, 18.865), (-93.56, 18.95)],
    [(-93.44, 18.88), (-93.37, 18.935), (-93.37, 18.99), (-93.42, 19.0)],
    [(-93.07, 18.86), (-93.10, 18.85), (-93.25, 18.885), (-93.39, 18.92), (-93.45, 18.98)],
    [(-93.065, 18.73), (-93.115, 18.775), (-93.18, 18.805), (-93.30, 18.835), (-93.25, 18.89), (-93.19, 19.04), (-93.25, 19.17), (-93.335, 19.19), (-93.45, 19.0)],
    [(-93.015, 19.135), (-93.015, 19.09), (-93.12, 18.975), (-93.155, 18.975), (-93.31, 18.985), (-93.415, 19.01)],
    [(-93.01, 19.365), (-93.05, 19.22), (-93.19, 19.155), (-93.375, 19.05)],
    [(-92.975, 19.335), (-93.065, 19.325), (-93.165, 19.27), (-93.40, 19.07)],
    [(-92.93, 19.305), (-93.05, 19.215), (-93.14, 19.145), (-93.38, 19.04)],
    [(-92.75, 19.985), (-92.835, 19.585), (-92.90, 19.42), (-92.96, 19.26), (-93.055, 19.185), (-93.235, 19.065)],
    [(-93.915, 19.60), (-93.88, 19.495), (-93.77, 19.38), (-93.69, 19.22), (-93.63, 19.145)],
    [(-94.02, 19.74), (-93.955, 19.525), (-94.0, 19.355), (-93.93, 19.225), (-93.825, 19.145), (-93.655, 19.03)],
    [(-93.08, 20.505), (-93.22, 20.455), (-93.48, 19.98), (-93.70, 19.675), (-93.75, 19.51), (-93.72, 19.41), (-93.69, 19.22), (-93.61, 19.075)],
    [(-94.255, 18.88), (-94.215, 18.89), (-94.11, 18.915), (-94.01, 18.93), (-93.81, 18.975), (-93.63, 18.99)],
    [(-94.32, 18.725), (-94.225, 18.71), (-94.145, 18.74), (-94.085, 18.79), (-93.95, 18.84), (-93.835, 18.89), (-93.63, 18.95)],
]

all_tracks = [tracks_1, tracks_2, tracks_3, tracks_4, tracks_5]
open_tracks = [0, tracks_2_open, tracks_3_open, 0, 0]
mean_mids = [mean_mid_1, mean_mid_2, mean_mid_3, mean_mid_4, mean_mid_5]
track_colors = ['rgb(0,0,255)', 'rgb(255,0,255)', 'rgb(0,153,0)', 'rgb(0,255,255)', 'rgb(153,76,20)']
draw_order = [0, 1, 2, 4, 3]

contours = [contour_1, contour_2, contour_3, contour_4, contour_5, contour_6, contour_7, contour_8, contour_9]

# frame bars
x_breaks = [-97, -96.5, -96, -95, -94, -93, -92]
y_breaks = [21, 20.5, 20, 19, 18]
band_x = 0.05
band_y = 0.05

fig = go.Figure()

for c in contours:
    fig.add_trace(go.Scatter(x=[p[0] for p in c], y=[p[1] for p in c], mode='lines',
                             line=dict(color='#555555', width=1.5), hoverinfo='skip'))

fig.add_trace(go.Scatter(x=[p[0] for p in coast], y=[p[1] for p in coast], mode='lines',
                         line=dict(color='black', width=4), hoverinfo='skip'))

# graticule
for lon in [-96, -94]:
    fig.add_trace(go.Scatter(x=[lon, lon], y=[18, 21], mode='lines',
                             line=dict(color='#333333', width=2, dash='5px,14px'), hoverinfo='skip'))
fig.add_trace(go.Scatter(x=[-97, -92], y=[20, 20], mode='lines',
                         line=dict(color='#999999', width=2, dash='5px,14px'), hoverinfo='skip'))

for i in draw_order:
    for track in all_tracks[i]:
        fig.add_trace(go.Scatter(x=[p[0] for p in track] + [spot_lon[i]],
                                 y=[p[1] for p in track] + [spot_lat[i]],
                                 mode='lines', hoverinfo='skip',
                                 line=dict(color=track_colors[i], width=2.2, shape='spline', smoothing=0.6)))

for i in range(5):
    n = len(all_tracks[i]) - open_tracks[i]
    ends = [t[0] for t in all_tracks[i][:n]]
    fig.add_trace(go.Scatter(x=[p[0] for p in ends], y=[p[1] for p in ends], mode='markers',
                             marker=dict(color='rgb(255,0,0)', size=11), hoverinfo='skip'))

for i in range(5):
    mx = [spot_lon[i]] + [p[0] for p in mean_mids[i]] + [mean_end_lon[i]]
    my = [spot_lat[i]] + [p[1] for p in mean_mids[i]] + [mean_end_lat[i]]
    fig.add_trace(go.Scatter(x=mx, y=my, mode='lines', hoverinfo='skip',
                             line=dict(color='black', width=6, shape='spline')))
    fig.add_trace(go.Scatter(x=[mean_end_lon[i]], y=[mean_end_lat[i]], mode='markers', hoverinfo='skip',
                             marker=dict(symbol='circle-open', size=26, color='black', line=dict(width=3.5, color='black'))))
    fig.add_trace(go.Scatter(x=[spot_lon[i]], y=[spot_lat[i]], mode='markers', hoverinfo='skip',
                             marker=dict(color='black', size=31)))

# ellipses go over the tracks, which is what tints everything under them
t = np.linspace(0, 2 * np.pi, 200)
for i in range(5):
    th = np.radians(ell_tilt[i])
    ex = mean_end_lon[i] + ell_a[i] * np.cos(t) * np.cos(th) - ell_b[i] * np.sin(t) * np.sin(th)
    ey = mean_end_lat[i] + ell_a[i] * np.cos(t) * np.sin(th) + ell_b[i] * np.sin(t) * np.cos(th)
    fig.add_trace(go.Scatter(x=ex, y=ey, mode='lines', fill='toself', fillcolor='rgba(0,255,0,0.2)',
                             line=dict(color='black', width=2.5, dash='3px,12px'), hoverinfo='skip'))

for i in range(5):
    fig.add_annotation(x=label_lon[i], y=label_lat[i], text=spot_names[i], showarrow=False,
                       font=dict(size=52, color='black', family='Liberation Sans'))

# fancy frame: alternating bars, then the two outlines
shapes = []


def bar(x0, x1, y0, y1, col):
    shapes.append(dict(type='rect', x0=x0, x1=x1, y0=y0, y1=y1, xref='x', yref='y', layer='above',
                       fillcolor=col, line=dict(width=0)))


cols = ['white', 'black']
for k in range(len(x_breaks) - 1):
    bar(x_breaks[k], x_breaks[k + 1], 21 - band_y, 21, cols[k % 2])
    bar(x_breaks[k], x_breaks[k + 1], 18, 18 + band_y, cols[(k + 1) % 2])
for k in range(len(y_breaks) - 1):
    bar(-97, -97 + band_x, y_breaks[k + 1], y_breaks[k], cols[k % 2])
    bar(-92 - band_x, -92, y_breaks[k + 1], y_breaks[k], cols[(k + 1) % 2])

shapes.append(dict(type='rect', x0=-97, x1=-92, y0=18, y1=21, xref='x', yref='y', layer='above',
                   line=dict(color='black', width=3)))
shapes.append(dict(type='rect', x0=-97 + band_x, x1=-92 - band_x, y0=18 + band_y, y1=21 - band_y, xref='x', yref='y',
                   layer='above', line=dict(color='black', width=3)))
shapes.append(dict(type='line', x0=-97, x1=-97 + band_x, y0=21, y1=21 - band_y, xref='x', yref='y', layer='above',
                   line=dict(color='black', width=2)))
shapes.append(dict(type='line', x0=-92 - band_x, x1=-92, y0=18 + band_y, y1=18, xref='x', yref='y', layer='above',
                   line=dict(color='black', width=2)))

fig.update_layout(
    width=2560, height=1642,
    margin=dict(l=142, r=67, t=80, b=65, autoexpand=False),
    paper_bgcolor='white', plot_bgcolor='white',
    showlegend=False, shapes=shapes,
    font=dict(family='Liberation Sans', color='black'),
    title=dict(text='Dispersion ellipses at day 3', x=0.508, xanchor='center', y=0.982, yanchor='middle',
               font=dict(size=50, family='Liberation Sans', color='black')),
    xaxis=dict(range=[-97, -92], showgrid=False, zeroline=False, showline=False,
               tickmode='array', tickvals=[-96, -94, -92],
               ticktext=['96<sup>o</sup>W', '94<sup>o</sup>W', '92<sup>o</sup>W'],
               tickfont=dict(size=52), ticks='', ticklabelstandoff=0),
    yaxis=dict(range=[18, 21], showgrid=False, zeroline=False, showline=False,
               tickmode='array', tickvals=[18, 20],
               ticktext=['18<sup>o</sup>N', '20<sup>o</sup>N'],
               tickfont=dict(size=52), ticks='', ticklabelstandoff=21),
)

fig.write_html("out.html", config={'displayModeBar': False},
               post_script="document.body.style.margin='0';document.body.style.overflow='hidden';")
